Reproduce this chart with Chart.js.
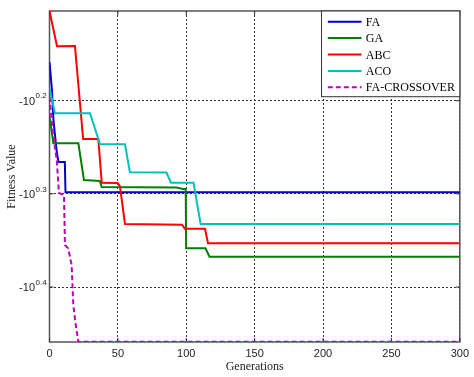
<!DOCTYPE html>
<html>
<head>
<meta charset="utf-8">
<script src="https://cdn.jsdelivr.net/npm/chart.js@4/dist/chart.umd.min.js"></script>
<style>
  html, body { margin: 0; padding: 0; background: #fff; }
  #wrap { width: 474px; height: 377px; }
</style>
</head>
<body>
<div id="wrap"><canvas id="fitChart" width="474" height="377"></canvas></div>
<script>
/* global Chart */

// y axis is -10^x : values below are x = log10(|fitness|)
const seriesNames = ['FA', 'GA', 'ABC', 'ACO', 'FA-CROSSOVER'];

const faGen = [0, 1.8, 2.9, 5.3, 6.6, 11.2, 11.7, 300];
const faExp = [0.1585, 0.1885, 0.2207, 0.2551, 0.2658, 0.2658, 0.2983, 0.2983];

const gaGen = [0, 2.8, 21.1, 25.2, 36.7, 38.2, 93, 97.6, 99.6, 99.9, 114, 117, 300];
const gaExp = [0.2164, 0.2457, 0.2457, 0.2851, 0.2862, 0.2926, 0.2932, 0.2948, 0.2948, 0.3585, 0.3585, 0.3675, 0.3675];

const abcGen = [0, 5.5, 18.6, 24.6, 35.7, 38.2, 49.7, 51.5, 55.2, 96.9, 99.0, 113.7, 115.9, 300];
const abcExp = [0.1037, 0.1416, 0.1413, 0.2411, 0.2411, 0.2880, 0.2884, 0.2916, 0.3324, 0.3331, 0.3374, 0.3374, 0.3531, 0.3531];

const acoGen = [0, 4.0, 29.6, 36.9, 55.2, 58.8, 85.5, 88.8, 105.3, 110.5, 300];
const acoExp = [0.1864, 0.2135, 0.2135, 0.2465, 0.2468, 0.2769, 0.2771, 0.2880, 0.2880, 0.3324, 0.3324];

const facGen = [0, 2.2, 5.3, 6.9, 10.6, 11.3, 13.7, 16.2, 17.4, 19.2, 21.1, 300];
const facExp = [0.1960, 0.2315, 0.2637, 0.2991, 0.3012, 0.3549, 0.3585, 0.3764, 0.4193, 0.4408, 0.4587, 0.4587];

const xTicks = [0, 50, 100, 150, 200, 250, 300];
const yTicks = [0.2, 0.3, 0.4];

const colors = ['#0000c8', '#008000', '#ff0000', '#00bfbf', '#bf00bf'];

function toPoints(gens, exps) {
  return gens.map((g, i) => ({ x: g, y: exps[i] }));
}

const allGens = [faGen, gaGen, abcGen, acoGen, facGen];
const allExps = [faExp, gaExp, abcExp, acoExp, facExp];

const datasets = seriesNames.map((name, i) => ({
  label: name,
  data: toPoints(allGens[i], allExps[i]),
  borderColor: colors[i],
  backgroundColor: colors[i],
  borderWidth: 2,
  borderDash: name === 'FA-CROSSOVER' ? [5, 3] : [],
  pointRadius: 0,
  tension: 0,
  fill: false,
  order: seriesNames.length - i,
}));

const serif = '"Liberation Serif", "Times New Roman", serif';
const sans = '"Liberation Sans", Arial, sans-serif';

// axes box, inner ticks and -10^x labels
const frame = {
  id: 'frame',
  beforeDatasetsDraw(chart) {
    const { ctx, chartArea: a } = chart;
    const { x, y } = chart.scales;
    ctx.save();
    ctx.strokeStyle = '#555';
    ctx.lineWidth = 1.5;
    ctx.strokeRect(a.left, a.top, a.right - a.left, a.bottom - a.top);

    ctx.strokeStyle = '#333';
    ctx.lineWidth = 1;
    ctx.beginPath();
    x.ticks.forEach((t) => {
      const px = x.getPixelForValue(t.value);
      ctx.moveTo(px, a.bottom); ctx.lineTo(px, a.bottom - 4);
      ctx.moveTo(px, a.top); ctx.lineTo(px, a.top + 4);
    });
    y.ticks.forEach((t) => {
      const py = y.getPixelForValue(t.value);
      ctx.moveTo(a.left, py); ctx.lineTo(a.left + 4, py);
      ctx.moveTo(a.right, py); ctx.lineTo(a.right - 4, py);
    });
    ctx.stroke();

    ctx.fillStyle = '#222';
    ctx.textBaseline = 'middle';
    y.ticks.forEach((t) => {
      const py = y.getPixelForValue(t.value);
      ctx.font = `11px ${sans}`;
      ctx.textAlign = 'right';
      ctx.fillText('-10', a.left - 14.5, py + 1);
      ctx.font = `8px ${sans}`;
      ctx.textAlign = 'left';
      ctx.fillText(t.value.toFixed(1), a.left - 14, py - 4.5);
    });
    ctx.restore();
  },
  afterDatasetsDraw(chart) {
    // legend box in the upper right corner
    const { ctx, chartArea: a } = chart;
    const left = a.right - 138.3;
    const top = a.top;
    ctx.save();
    ctx.fillStyle = '#fff';
    ctx.fillRect(left, top, a.right - left, 85.7);
    ctx.strokeStyle = '#333';
    ctx.lineWidth = 1;
    ctx.strokeRect(left, top, a.right - left, 85.7);
    ctx.font = `12px ${serif}`;
    ctx.textBaseline = 'middle';
    ctx.textAlign = 'left';
    chart.data.datasets.forEach((ds, i) => {
      const ry = top + 10.7 + i * 16.4;
      ctx.strokeStyle = ds.borderColor;
      ctx.lineWidth = 2;
      ctx.setLineDash(ds.borderDash);
      ctx.beginPath();
      ctx.moveTo(left + 6.3, ry);
      ctx.lineTo(left + 40, ry);
      ctx.stroke();
      ctx.setLineDash([]);
      ctx.fillStyle = '#000';
      ctx.fillText(ds.label, left + 44.3, ry + 1);
    });
    ctx.restore();
  },
};

const ctx = document.getElementById('fitChart');
const fitChart = new Chart(ctx, {
  type: 'line',
  data: { datasets },
  plugins: [frame],
  options: {
    responsive: false,
    devicePixelRatio: 1,
    animation: false,
    layout: {
      padding: { left: 0, right: 14, top: 11, bottom: 0 },
    },
    plugins: {
      legend: { display: false },
      tooltip: { enabled: false },
    },
    scales: {
      x: {
        type: 'linear',
        min: 0,
        max: 300,
        afterBuildTicks: (scale) => { scale.ticks = xTicks.map((v) => ({ value: v })); },
        afterFit: (scale) => { scale.height = 35; },
        grid: { color: '#333', lineWidth: 1, drawTicks: false },
        border: { display: false, dash: [2, 2] },
        ticks: {
          color: '#222',
          font: { family: sans, size: 11 },
          padding: 5,
          maxRotation: 0,
          autoSkip: false,
        },
        title: {
          display: true,
          text: 'Generations',
          color: '#222',
          font: { family: serif, size: 12 },
          padding: { top: 0, bottom: 3 },
        },
      },
      y: {
        type: 'linear',
        reverse: true,
        min: 0.1037,
        max: 0.459,
        afterBuildTicks: (scale) => { scale.ticks = yTicks.map((v) => ({ value: v })); },
        afterFit: (scale) => { scale.width = 49.5; },
        grid: { color: '#333', lineWidth: 1, drawTicks: false },
        border: { display: false, dash: [2, 2] },
        ticks: { display: false },
        title: {
          display: true,
          text: 'Fitness Value',
          color: '#222',
          font: { family: serif, size: 12 },
          padding: { top: 5, bottom: 0 },
        },
      },
    },
  },
});
</script>
</body>
</html>
